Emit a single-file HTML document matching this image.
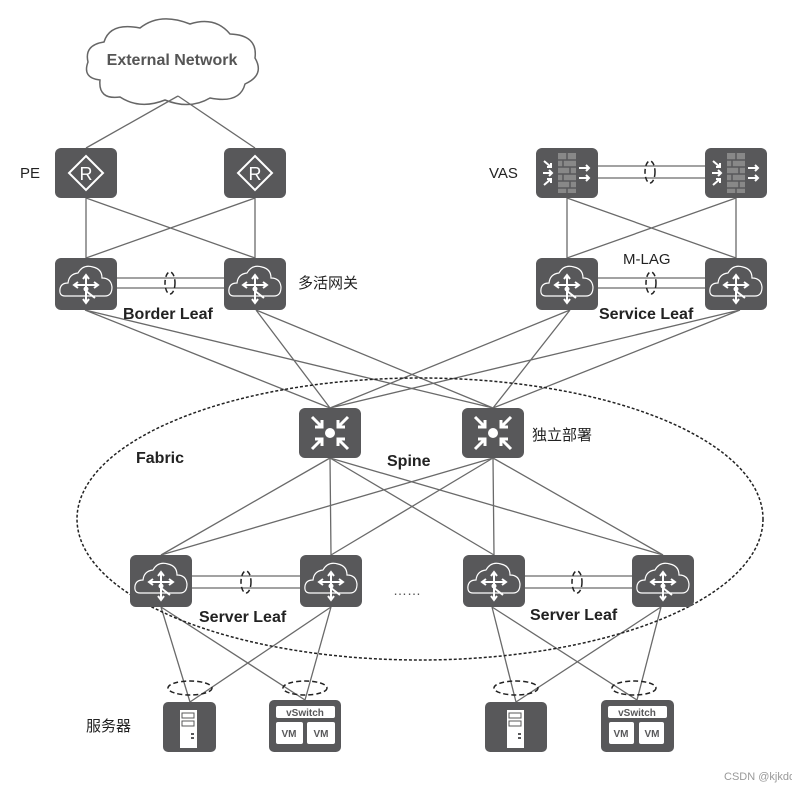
<!DOCTYPE html>
<html><head><meta charset="utf-8"><style>
html,body{margin:0;padding:0;background:#fff}
svg{display:block}
text{font-family:"Liberation Sans","Noto Sans CJK SC",sans-serif}
</style></head><body>
<svg width="792" height="792" viewBox="0 0 792 792" xmlns="http://www.w3.org/2000/svg">
<defs>
<g id="cloudicon">
 <rect x="0" y="0" width="62" height="52" rx="6" fill="#58585a"/>
 <path d="M10 38 Q4 38 5 31 Q6 25 13 25 Q14 16 23 15 Q28 6 38 9 Q47 11 47 20 Q56 20 57 29 Q57 38 50 38 Z" fill="none" stroke="#fff" stroke-width="1.2"/>
 <g stroke="#fff" stroke-width="2" fill="none">
  <path d="M31 18 V44 M20 27 H42 M31 33 L40 40"/>
  <path d="M28 21 L31 17 L34 21 M28 41 L31 45 L34 41 M23 24 L19 27 L23 30 M39 24 L43 27 L39 30"/>
 </g>
 <circle cx="31" cy="31" r="2.5" fill="#fff"/>
</g>
<g id="router">
 <rect x="0" y="0" width="62" height="50" rx="6" fill="#58585a"/>
 <path d="M31 8 L48 25 L31 42 L14 25 Z" fill="none" stroke="#fff" stroke-width="2"/>
 <text x="31" y="32" font-size="18" fill="#fff" text-anchor="middle">R</text>
</g>
<g id="spine">
 <rect x="0" y="0" width="62" height="50" rx="6" fill="#58585a"/>
 <circle cx="31" cy="25" r="5" fill="#fff"/>
 <g stroke="#fff" stroke-width="3" fill="none">
  <path d="M13 9 L23 19 M23 12 V19 H16"/>
  <path d="M49 9 L39 19 M39 12 V19 H46"/>
  <path d="M13 41 L23 31 M23 38 V31 H16"/>
  <path d="M49 41 L39 31 M39 38 V31 H46"/>
 </g>
</g>
<g id="fw">
 <rect x="0" y="0" width="62" height="50" rx="6" fill="#58585a"/>
 <rect x="22" y="5" width="18" height="40" fill="#888"/>
 <g stroke="#58585a" stroke-width="1.5"><path d="M22 12H40M22 19H40M22 26H40M22 33H40M22 40H40M31 5V12M27 12V19M34 19V26M27 26V33M34 33V40M31 40V45"/></g>
 <g stroke="#fff" stroke-width="2" fill="none">
  <path d="M8 13 L15 19 M11 19 H15 V15"/>
  <path d="M7 25 H16 M13 22 L16 25 L13 28"/>
  <path d="M8 37 L15 31 M11 31 H15 V35"/>
  <path d="M43 20 H53 M50 17 L53 20 L50 23"/>
  <path d="M43 30 H53 M50 27 L53 30 L50 33"/>
 </g>
</g>
</defs>

<!-- cloud -->
<path d="M100 80 Q82 78 88 62 Q84 45 104 42 Q110 22 140 28 Q160 12 190 24 Q215 16 230 34 Q258 35 255 58 Q265 75 245 84 Q240 104 210 98 Q190 110 165 100 Q140 110 120 97 Q98 100 100 80 Z" fill="#fff" stroke="#666" stroke-width="1.5"/>
<text x="172" y="65" font-size="16" font-weight="bold" fill="#555" text-anchor="middle">External Network</text>

<g stroke="#6a6a6a" stroke-width="1.3" fill="none">
 <!-- cloud to PE -->
 <path d="M178 96 L86 148 M178 96 L255 148"/>
 <!-- PE to border -->
 <path d="M86 198 V258 M255 198 V258 M86 198 L255 258 M255 198 L86 258"/>
 <!-- VAS to service -->
 <path d="M567 198 V258 M736 198 V258 M567 198 L736 258 M736 198 L567 258"/>
 <!-- border/service to spines -->
 <path d="M85 310 L330 408 M85 310 L493 408 M256 310 L330 408 M256 310 L493 408"/>
 <path d="M570 310 L330 408 M570 310 L493 408 M740 310 L330 408 M740 310 L493 408"/>
 <!-- spines to server leaf -->
 <path d="M330 458 L161 555 M330 458 L331 555 M330 458 L494 555 M330 458 L663 555"/>
 <path d="M493 458 L161 555 M493 458 L331 555 M493 458 L494 555 M493 458 L663 555"/>
 <!-- server leaf to servers -->
 <path d="M161 607 L190 702 M161 607 L305 700 M331 607 L190 702 M331 607 L305 700"/>
 <path d="M492 607 L516 702 M492 607 L637 700 M661 607 L516 702 M661 607 L637 700"/>
 <!-- double links -->
 <path d="M117 278 H224 M117 288 H224"/>
 <path d="M598 166 H705 M598 178 H705"/>
 <path d="M598 278 H705 M598 288 H705"/>
 <path d="M191 576 H300 M191 588 H300"/>
 <path d="M524 576 H632 M524 588 H632"/>
</g>

<!-- lag ellipses -->
<g fill="none" stroke="#222" stroke-width="1.5" stroke-dasharray="5,3">
 <ellipse cx="170" cy="283" rx="5" ry="11"/>
 <ellipse cx="650" cy="172" rx="5" ry="11"/>
 <ellipse cx="651" cy="283" rx="5" ry="11"/>
 <ellipse cx="246" cy="582" rx="5" ry="11"/>
 <ellipse cx="577" cy="582" rx="5" ry="11"/>
 <ellipse cx="190" cy="688" rx="22" ry="7"/>
 <ellipse cx="305" cy="688" rx="22" ry="7"/>
 <ellipse cx="516" cy="688" rx="22" ry="7"/>
 <ellipse cx="634" cy="688" rx="22" ry="7"/>
</g>

<!-- fabric ellipse -->
<ellipse cx="420" cy="519" rx="343" ry="141" fill="none" stroke="#222" stroke-width="1.5" stroke-dasharray="3,2"/>

<!-- devices -->
<use href="#router" x="55" y="148"/>
<use href="#router" x="224" y="148"/>
<use href="#fw" x="536" y="148"/>
<use href="#fw" x="705" y="148"/>
<use href="#cloudicon" x="55" y="258"/>
<use href="#cloudicon" x="224" y="258"/>
<use href="#cloudicon" x="536" y="258"/>
<use href="#cloudicon" x="705" y="258"/>
<use href="#spine" x="299" y="408"/>
<use href="#spine" x="462" y="408"/>
<use href="#cloudicon" x="130" y="555"/>
<use href="#cloudicon" x="300" y="555"/>
<use href="#cloudicon" x="463" y="555"/>
<use href="#cloudicon" x="632" y="555"/>

<!-- servers -->
<g>
 <rect x="163" y="702" width="53" height="50" rx="5" fill="#58585a"/>
 <rect x="180" y="710" width="17" height="38" fill="#fff"/>
 <rect x="182" y="713" width="12" height="5" fill="none" stroke="#58585a"/>
 <rect x="182" y="721" width="12" height="5" fill="none" stroke="#58585a"/>
 <rect x="191" y="733" width="3" height="2" fill="#58585a"/><rect x="191" y="737" width="3" height="2" fill="#58585a"/>
</g>
<g>
 <rect x="485" y="702" width="62" height="50" rx="5" fill="#58585a"/>
 <rect x="507" y="710" width="17" height="38" fill="#fff"/>
 <rect x="509" y="713" width="12" height="5" fill="none" stroke="#58585a"/>
 <rect x="509" y="721" width="12" height="5" fill="none" stroke="#58585a"/>
 <rect x="518" y="733" width="3" height="2" fill="#58585a"/><rect x="518" y="737" width="3" height="2" fill="#58585a"/>
</g>
<g font-weight="bold" font-size="10" fill="#58585a" text-anchor="middle">
 <rect x="269" y="700" width="72" height="52" rx="5" fill="#58585a"/>
 <rect x="276" y="706" width="59" height="12" rx="2" fill="#fff"/>
 <text x="305" y="716">vSwitch</text>
 <rect x="276" y="722" width="27" height="22" rx="2" fill="#fff"/>
 <rect x="307" y="722" width="28" height="22" rx="2" fill="#fff"/>
 <text x="289" y="737">VM</text><text x="321" y="737">VM</text>
 <rect x="601" y="700" width="73" height="52" rx="5" fill="#58585a"/>
 <rect x="608" y="706" width="59" height="12" rx="2" fill="#fff"/>
 <text x="637" y="716">vSwitch</text>
 <rect x="609" y="722" width="25" height="22" rx="2" fill="#fff"/>
 <rect x="639" y="722" width="25" height="22" rx="2" fill="#fff"/>
 <text x="621" y="737">VM</text><text x="652" y="737">VM</text>
</g>

<!-- labels -->
<g fill="#222" font-size="15">
 <text x="20" y="178">PE</text>
 <text x="489" y="178">VAS</text>
 <text x="298" y="288">多活网关</text>
 <text x="623" y="264">M-LAG</text>
 <text x="532" y="440">独立部署</text>
 <text x="86" y="731">服务器</text>
</g>
<g fill="#222" font-size="16" font-weight="bold">
 <text x="123" y="319">Border Leaf</text>
 <text x="599" y="319">Service Leaf</text>
 <text x="136" y="463">Fabric</text>
 <text x="387" y="466">Spine</text>
 <text x="199" y="622">Server Leaf</text>
 <text x="530" y="620">Server Leaf</text>
</g>
<text x="393" y="595" font-size="14" fill="#555">……</text>
<text x="724" y="780" font-size="11" fill="#999">CSDN @kjkdd</text>
</svg>
</body></html>
